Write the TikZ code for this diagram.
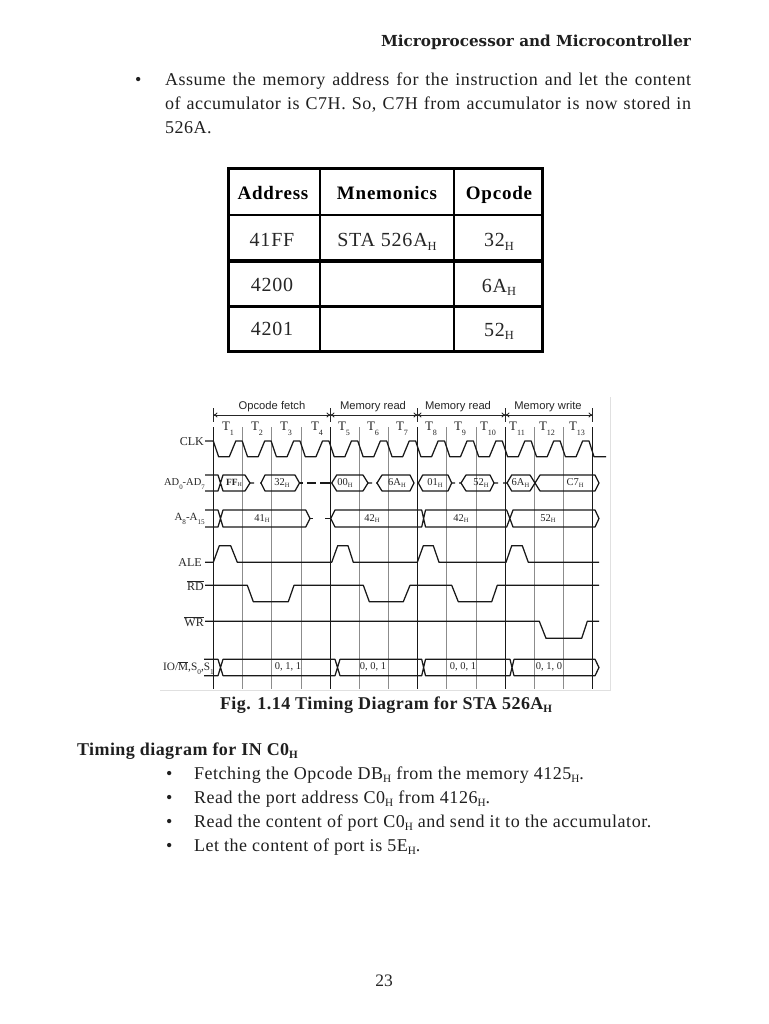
\documentclass[tikz,border=0pt]{standalone}
\usepackage{fontspec}
\usepackage{graphicx}
\usetikzlibrary{arrows.meta}
\setmainfont{Liberation Serif}
\setsansfont{Liberation Sans}
\newfontfamily\hdfont{DejaVu Serif}
\newcommand{\sH}{\raisebox{-0.18em}{\scalebox{.62}{H}}}
\newcommand{\jl}[2]{\makebox[#1][s]{#2}}
\tikzset{
  page/.style={anchor=base west,inner sep=0pt,outer sep=0pt,font=\fontsize{18}{20}\selectfont\addfontfeatures{LetterSpace=3},text=black!88},
  pagebold/.style={page,font=\bfseries\fontsize{18}{20}\selectfont\addfontfeatures{LetterSpace=2.5}},
  tabhead/.style={inner sep=0pt,anchor=base,font=\fontsize{19}{20}\selectfont\bfseries\addfontfeatures{LetterSpace=4}},
  tabcell/.style={inner sep=0pt,anchor=base,font=\fontsize{20}{20}\selectfont\addfontfeatures{LetterSpace=4},text=black!85},
  majorgrid/.style={line width=1.1pt,black!90},
  minorgrid/.style={line width=1.2pt,black!45},
  wave/.style={line width=1.25pt,black!90,line join=round},
  span/.style={line width=.9pt,black!85,{To[length=4pt,width=5pt]}-{To[length=4pt,width=5pt]}},
  phase/.style={inner sep=0pt,font=\sffamily\fontsize{11.2}{12}\selectfont,text=black!85},
  tlabel/.style={inner sep=0pt,font=\fontsize{13}{14}\selectfont,text=black!85},
  sig/.style={inner sep=0pt,anchor=east,font=\fontsize{12}{13}\selectfont,text=black!85},
  val/.style={inner sep=0pt,font=\fontsize{10.5}{12}\selectfont,text=black!85},
}
\begin{document}
\begin{tikzpicture}[x=1pt,y=-1pt]
\useasboundingbox (0,0) rectangle (768,1024);
\fill[white] (0,0) rectangle (768,1024);
% header and text
\node[page,font=\hdfont\bfseries\fontsize{15.2}{16}\selectfont] (hd) at (381,47) {Microprocessor and Microcontroller};
\node[page] (b1) at (135,86) {•};
\node[page] (l1) at (165,86) {\jl{526pt}{Assume the memory address for the instruction and let the content}};
\node[page] (l2) at (165,110) {\jl{526pt}{of accumulator is C7H. So, C7H from accumulator is now stored in}};
\node[page] (l3) at (165,134) {526A.};
% table
\draw[line width=3pt] (228,168.5) rectangle (542,351.5);
\draw[line width=2.2pt] (320,168) -- (320,352) (454,168) -- (454,352) (228,215) -- (542,215) (228,306.5) -- (542,306.5);
\draw[line width=3.4pt] (228,261) -- (542,261);
\node[tabhead] (h1) at (273,200) {Address};
\node[tabhead] (h2) at (387,200) {Mnemonics};
\node[tabhead] (h3) at (499,200) {Opcode};
\node[tabcell] (a1) at (272,247) {41FF};
\node[tabcell] (m1) at (387,247) {STA 526A\sH};
\node[tabcell] (o1) at (499,247) {32\sH};
\node[tabcell] (a2) at (272,291) {4200};
\node[tabcell] (o2) at (499,292) {6A\sH};
\node[tabcell] (a3) at (272,335) {4201};
\node[tabcell] (o3) at (499,336) {52\sH};
% picture frame
\draw[black!12,line width=1pt] (610,397) -- (610,690) -- (160,690);
% grid
\foreach \x in {242.5,271.5,301.5,359.5,388.5,446.5,476.5,534.5,563.5}
  \draw[minorgrid] (\x,427) -- (\x,689);
\foreach \x in {213.5,330.5,417.5,505.5,592.5}
  \draw[majorgrid] (\x,427) -- (\x,689);
% phase spans
\draw[line width=.9pt,black!85] (213.5,408) -- (213.5,422) (330.5,408) -- (330.5,422) (417.5,408) -- (417.5,422) (505.5,408) -- (505.5,422) (592.5,408) -- (592.5,422);
\coordinate (p0) at (213.5,415);
\coordinate (p1) at (330.5,415);
\coordinate (p2) at (417.5,415);
\coordinate (p3) at (505.5,415);
\coordinate (p4) at (592.5,415);
\draw[span] (p0) -- (p1);
\draw[span] (p1) -- (p2);
\draw[span] (p2) -- (p3);
\draw[span] (p3) -- (p4);
\node[phase] (f1) at (272,407) {Opcode fetch};
\node[phase] (f2) at (373,407) {Memory read};
\node[phase] (f3) at (458,407) {Memory read};
\node[phase] (f4) at (548,407) {Memory write};
% T labels
\foreach \x/\n in {228/1,257/2,286/3,317/4,344/5,373/6,402/7,431/8,460/9,488/10,517/11,547/12,577/13}
  \node[tlabel] (t\n) at (\x,429) {T\raisebox{-.35em}{\scalebox{.62}{\n}}};
% signal names
\node[sig] (sclk) at (204,442) {CLK};
\node[sig,font=\fontsize{10.5}{13}\selectfont] (sad) at (205,484) {AD\raisebox{-.3em}{\scalebox{.65}{0}}-AD\raisebox{-.3em}{\scalebox{.65}{7}}};
\node[sig,font=\fontsize{11}{13}\selectfont] (sa) at (205,519) {A\raisebox{-.3em}{\scalebox{.65}{8}}-A\raisebox{-.3em}{\scalebox{.65}{15}}};
\node[sig] (sale) at (202,562.5) {ALE};
\node[sig] (srd) at (204,586) {$\overline{\mbox{RD}}$};
\node[sig] (swr) at (204,622) {$\overline{\mbox{WR}}$};
\node[sig,font=\fontsize{11.3}{13}\selectfont] (sio) at (214,668) {IO/$\overline{\mbox{M}}$,S\raisebox{-.3em}{\scalebox{.65}{0}},S\raisebox{-.3em}{\scalebox{.65}{1}}};
% CLK
\draw[wave] (205,441) -- (213.3,441)
  \foreach \i in {0,...,12} { -- ++(5.3,15.7) -- ++(10.7,0) -- ++(6.5,-15.7) -- ++(6.4,0) }
  -- ++(5,15.7) -- (606,456.7);
% AD bus
\draw[wave] (205,475) -- (218,475) -- (223,491) -- (245,491) -- (250,483) -- (245,475) -- (223,475) -- (218,491) -- (205,491);
\draw[wave] (250,483) -- (254,483) (260,483) -- (261,483) -- (265,475) -- (295,475) -- (299.5,483) -- (295,491) -- (265,491) -- (261,483);
\draw[wave] (299.5,483) -- (303,483) (307,483) -- (316,483) (320,483) -- (330,483);
\draw[wave] (331.7,483) -- (336.7,475) -- (363,475) -- (368,483) -- (363,491) -- (336.7,491) -- cycle;
\draw[wave] (368,483) -- (372,483) (376,483) -- (377,483) -- (382,475) -- (410,475) -- (414,483) -- (410,491) -- (382,491) -- (377,483);
\draw[wave] (418.3,483) -- (422.7,475) -- (448,475) -- (451.7,483) -- (448,491) -- (422.7,491) -- cycle;
\draw[wave] (451.7,483) -- (455,483) (459,483) -- (461,483) -- (466,475) -- (490,475) -- (494,483) -- (490,491) -- (466,491) -- (461,483);
\draw[wave] (494,483) -- (498,483) (503,483) -- (507,483) -- (511.7,475) -- (530,475) -- (535,483) -- (530,491) -- (511.7,491) -- (507,483);
\draw[wave] (535,483) -- (540,475) -- (595,475) -- (599,483) -- (595,491) -- (540,491) -- cycle;
% A bus
\draw[wave] (205,510) -- (218,510) -- (223,527) -- (305.7,527) -- (310,518.5) -- (305.7,510) -- (223,510) -- (218,527) -- (205,527);
\draw[wave] (310,518.5) -- (313,518.5) (325,518.5) -- (330.7,518.5);
\draw[wave] (330.7,518.5) -- (335,510) -- (421.7,510) -- (425.5,527) -- (506.7,527) -- (513,510) -- (595,510) -- (599,518.5) -- (595,527) -- (513,527) -- (506.7,510) -- (425.5,510) -- (421.7,527) -- (335,527) -- cycle;
% ALE
\draw[wave] (205,562.3) -- (213.3,562.3) -- (219.3,545.7) -- (230.7,545.7) -- (237.3,562.3) -- (331.7,562.3) -- (337.7,545.7) -- (348,545.7) -- (353.3,562.3) -- (417.3,562.3) -- (423.3,545.7) -- (433.3,545.7) -- (439,562.3) -- (506,562.3) -- (511.7,545.7) -- (522.3,545.7) -- (528.3,562.3) -- (599,562.3);
% RD
\draw[wave] (205,585.3) -- (247.3,585.3) -- (253.3,601.7) -- (288.3,601.7) -- (294,585.3) -- (363.3,585.3) -- (369.3,601.7) -- (403.3,601.7) -- (410,585.3) -- (451.7,585.3) -- (458.3,601.7) -- (491.7,601.7) -- (497.3,585.3) -- (599,585.3);
% WR
\draw[wave] (205,621.3) -- (539.3,621.3) -- (546,638.3) -- (581.7,638.3) -- (587.3,621.3) -- (599,621.3);
% IO bus
\draw[wave] (204,659.3) -- (218,659.3) -- (223,675.7) -- (335,675.7) -- (340,659.3) -- (421.7,659.3) -- (425.5,675.7) -- (510,675.7) -- (514,659.3) -- (595,659.3) -- (599,667.5) -- (595,675.7) -- (514,675.7) -- (510,659.3) -- (425.5,659.3) -- (421.7,675.7) -- (340,675.7) -- (335,659.3) -- (223,659.3) -- (218,675.7) -- (204,675.7);
% values
\node[val,font=\fontsize{9.5}{12}\selectfont] (vff) at (234,483) {\textbf{FF}\sH};
\node[val] (v32) at (282,483) {32\sH};
\node[val] (v00) at (345,483) {00\sH};
\node[val] (v6a) at (397,483) {6A\sH};
\node[val] (v01) at (435,483) {01\sH};
\node[val] (v52) at (481,483) {52\sH};
\node[val] (v6b) at (520.5,483) {6A\sH};
\node[val] (vc7) at (575,483) {C7\sH};
\node[val] (w41) at (262,518.5) {41\sH};
\node[val] (w42) at (372,518.5) {42\sH};
\node[val] (w43) at (461,518.5) {42\sH};
\node[val] (w52) at (548,518.5) {52\sH};
\node[val] (i1) at (288,667) {0, 1, 1};
\node[val] (i2) at (373,667) {0, 0, 1};
\node[val] (i3) at (463,667) {0, 0, 1};
\node[val] (i4) at (549,667) {0, 1, 0};
% caption and text below
\node[pagebold] (cap) at (220,709) {Fig. 1.14 Timing Diagram for STA 526A\sH};
\node[pagebold] (tt) at (77,755) {Timing diagram for IN C0\sH};
\foreach \y/\n in {779/1,803/2,827/3,851/4} \node[page] (d\n) at (166,\y) {•};
\node[page] (e1) at (194,779) {Fetching the Opcode DB\sH{} from the memory 4125\sH.};
\node[page] (e2) at (194,803) {Read the port address C0\sH{} from 4126\sH.};
\node[page] (e3) at (194,827) {Read the content of port C0\sH{} and send it to the accumulator.};
\node[page] (e4) at (194,851) {Let the content of port is 5E\sH.};
\node[inner sep=0pt,font=\fontsize{17.5}{20}\selectfont,text=black!85] (pg) at (384,981) {23};
\end{tikzpicture}
\end{document}
